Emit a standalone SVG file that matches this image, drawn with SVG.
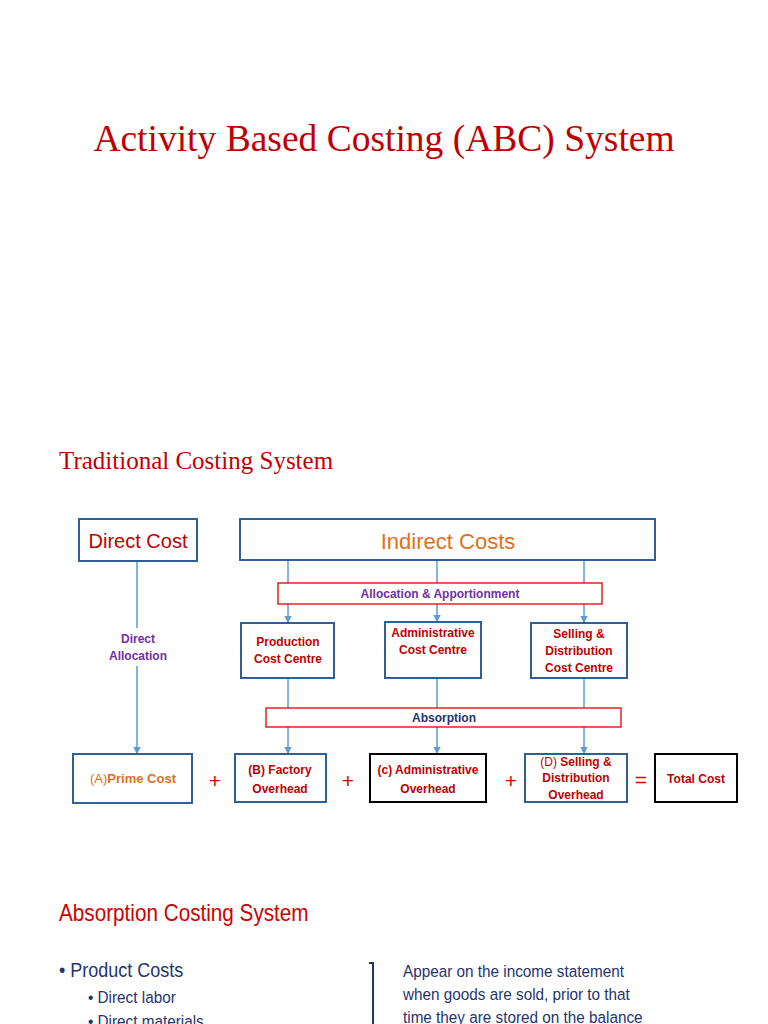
<svg xmlns="http://www.w3.org/2000/svg" width="768" height="1024" viewBox="0 0 768 1024">
<style>
.serif{font-family:"Liberation Serif",serif;fill:#c00000}
.s{font-family:"Liberation Sans",Arial,sans-serif}
.bx{fill:#fff;stroke:#2e5f96;stroke-width:2}
.bk{fill:#fff;stroke:#000;stroke-width:2}
.rd{fill:#fff;stroke:#e00000;stroke-width:1.3}
.ln{stroke:#5b9bd5;stroke-width:1.5;fill:none}
.b{font-weight:bold;font-size:12px;fill:#c00000;text-anchor:middle}
.op{font-size:21px;fill:#e00000;text-anchor:middle}
.nv{fill:#1f3470}
</style>
<defs><marker id="a" viewBox="0 0 6 6" refX="5" refY="3" markerWidth="5" markerHeight="5" orient="auto"><path d="M0,0 L6,3 L0,6 z" fill="#5b9bd5"/></marker></defs>
<rect width="768" height="1024" fill="#fff"/>
<text class="serif" x="384" y="151" font-size="37.5" text-anchor="middle">Activity Based Costing (ABC) System</text>
<text class="serif" x="59" y="469" font-size="25">Traditional Costing System</text>
<g id="connectors">
<path class="ln" d="M137,561 V628 M137,666 V753" marker-end="url(#a)"/>
<path class="ln" d="M288,560 V622" marker-end="url(#a)"/>
<path class="ln" d="M437,560 V621" marker-end="url(#a)"/>
<path class="ln" d="M584,560 V622" marker-end="url(#a)"/>
<path class="ln" d="M288,678 V753" marker-end="url(#a)"/>
<path class="ln" d="M437,678 V753" marker-end="url(#a)"/>
<path class="ln" d="M584,678 V753" marker-end="url(#a)"/>
</g>
<g id="direct-cost"><rect class="bx" x="79" y="519" width="118" height="42"/><text class="s" x="138" y="548" font-size="20" fill="#c00000" text-anchor="middle">Direct Cost</text></g>
<g id="indirect-costs"><rect class="bx" x="240" y="519" width="415" height="41"/><text class="s" x="448" y="549" font-size="22" fill="#e07020" text-anchor="middle">Indirect Costs</text></g>
<g id="direct-allocation"><text class="s" font-size="12" font-weight="bold" fill="#7030a0" text-anchor="middle"><tspan x="138" y="643">Direct</tspan><tspan x="138" y="660">Allocation</tspan></text></g>
<g id="allocation"><rect class="rd" x="278" y="583" width="324" height="21"/><text class="s" x="440" y="598" font-size="12" font-weight="bold" fill="#7030a0" text-anchor="middle">Allocation &amp; Apportionment</text></g>
<g id="production-cc"><rect class="bx" x="241" y="623" width="93" height="55"/><text class="s b"><tspan x="288" y="646">Production</tspan><tspan x="288" y="663">Cost Centre</tspan></text></g>
<g id="admin-cc"><rect class="bx" x="385" y="622" width="96" height="56"/><text class="s b"><tspan x="433" y="637">Administrative</tspan><tspan x="433" y="654">Cost Centre</tspan></text></g>
<g id="selling-cc"><rect class="bx" x="531" y="623" width="96" height="55"/><text class="s b"><tspan x="579" y="638">Selling &amp;</tspan><tspan x="579" y="655">Distribution</tspan><tspan x="579" y="672">Cost Centre</tspan></text></g>
<g id="absorption"><rect class="rd" x="266" y="708" width="355" height="19"/><text class="s nv" x="444" y="722" font-size="12" font-weight="bold" text-anchor="middle">Absorption</text></g>
<g id="prime-cost"><rect class="bx" x="73" y="754" width="119" height="49"/><text class="s" x="133" y="783" font-size="13" text-anchor="middle" fill="#e07020"><tspan>(A)</tspan><tspan font-weight="bold">Prime Cost</tspan></text></g>
<text class="s op" x="215" y="788">+</text>
<g id="factory-overhead"><rect class="bx" x="235" y="754" width="91" height="48" stroke-width="1.3"/><text class="s b" font-size="13"><tspan x="280" y="774">(B) Factory</tspan><tspan x="280" y="793">Overhead</tspan></text></g>
<text class="s op" x="348" y="788">+</text>
<g id="admin-overhead"><rect class="bk" x="370" y="754" width="116" height="48"/><text class="s b" font-size="13"><tspan x="428" y="774">(c) Administrative</tspan><tspan x="428" y="793">Overhead</tspan></text></g>
<text class="s op" x="511" y="788">+</text>
<g id="selling-overhead"><rect class="bx" x="525" y="754" width="102" height="48" stroke-width="1.3"/><text class="s b"><tspan x="576" y="766"><tspan font-weight="normal">(D)</tspan> Selling &amp;</tspan><tspan x="576" y="782">Distribution</tspan><tspan x="576" y="799">Overhead</tspan></text></g>
<text class="s op" x="641" y="787">=</text>
<g id="total-cost"><rect class="bk" x="655" y="754" width="82" height="48"/><text class="s b" font-size="13" x="696" y="783">Total Cost</text></g>
<text class="s" x="59" y="921" font-size="23" fill="#d00000" transform="translate(59,0) scale(0.9,1) translate(-59,0)">Absorption Costing System</text>
<g class="s nv">
<text x="59" y="977" font-size="20" fill="#1f3470" transform="translate(59,0) scale(0.9,1) translate(-59,0)">• Product Costs</text>
<text x="88" y="1003" font-size="17" fill="#1f3470" transform="translate(88,0) scale(0.9,1) translate(-88,0)">• Direct labor</text>
<text x="88" y="1027" font-size="17" fill="#1f3470" transform="translate(88,0) scale(0.9,1) translate(-88,0)">• Direct materials</text>
<text x="403" y="977" font-size="17" fill="#1f3470" transform="translate(403,0) scale(0.9,1) translate(-403,0)">Appear on the income statement</text>
<text x="403" y="1000" font-size="17" fill="#1f3470" transform="translate(403,0) scale(0.9,1) translate(-403,0)">when goods are sold, prior to that</text>
<text x="403" y="1023" font-size="17" fill="#1f3470" transform="translate(403,0) scale(0.9,1) translate(-403,0)">time they are stored on the balance</text>
</g>
<path d="M369,963 H373 V1024" stroke="#1f3470" stroke-width="2" fill="none"/>
</svg>
